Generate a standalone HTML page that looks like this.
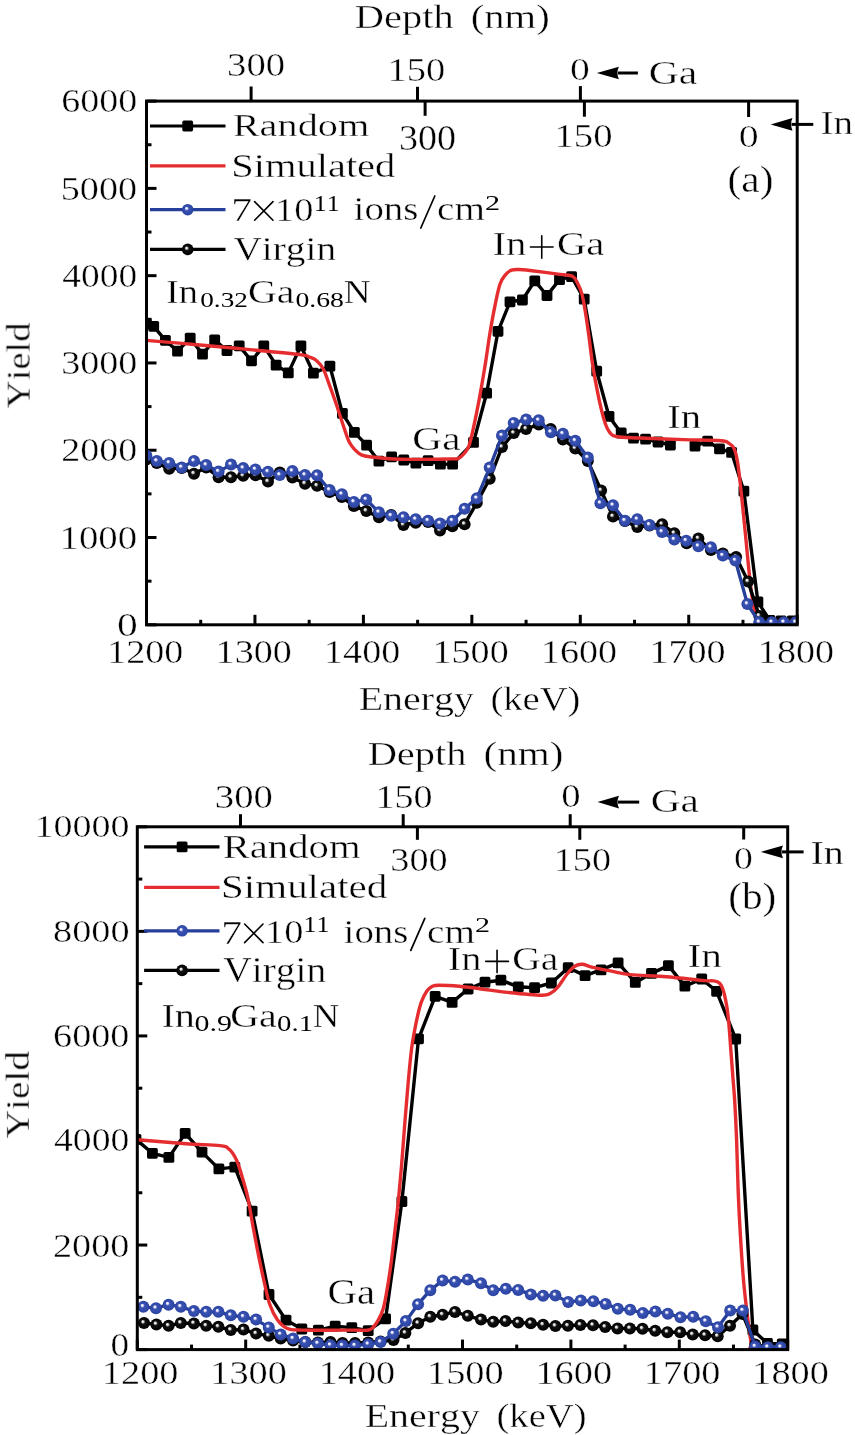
<!DOCTYPE html>
<html><head><meta charset="utf-8"><style>
html,body{margin:0;padding:0;background:#fff;}
body{width:855px;height:1435px;overflow:hidden;font-family:"Liberation Serif",serif;}
svg{display:block;}
</style></head><body>
<svg width="855" height="1435" viewBox="0 0 855 1435">
<rect width="855" height="1435" fill="#fff"/>
<defs>
<radialGradient id="gBlue" cx="0.5" cy="0.5" r="0.5" fx="0.38" fy="0.36">
<stop offset="0" stop-color="#ffffff"/><stop offset="0.16" stop-color="#e8e8ff"/><stop offset="0.36" stop-color="#3a52b0"/><stop offset="1" stop-color="#2b43a3"/>
</radialGradient>
<radialGradient id="gBlk" cx="0.5" cy="0.5" r="0.5" fx="0.38" fy="0.36">
<stop offset="0" stop-color="#ffffff"/><stop offset="0.16" stop-color="#dddddd"/><stop offset="0.38" stop-color="#111111"/><stop offset="1" stop-color="#000000"/>
</radialGradient>
<clipPath id="cA"><rect x="146.50" y="101.10" width="650.70" height="523.70"/></clipPath>
<clipPath id="cB"><rect x="137.30" y="826.80" width="650.40" height="522.80"/></clipPath>
</defs>
<g stroke="#000" stroke-width="3.0" fill="none"><line x1="146.50" y1="624.80" x2="146.50" y2="614.80"/>
<line x1="254.95" y1="624.80" x2="254.95" y2="614.80"/>
<line x1="363.40" y1="624.80" x2="363.40" y2="614.80"/>
<line x1="471.85" y1="624.80" x2="471.85" y2="614.80"/>
<line x1="580.30" y1="624.80" x2="580.30" y2="614.80"/>
<line x1="688.75" y1="624.80" x2="688.75" y2="614.80"/>
<line x1="797.20" y1="624.80" x2="797.20" y2="614.80"/>
<line x1="200.72" y1="624.80" x2="200.72" y2="619.80"/>
<line x1="309.18" y1="624.80" x2="309.18" y2="619.80"/>
<line x1="417.62" y1="624.80" x2="417.62" y2="619.80"/>
<line x1="526.08" y1="624.80" x2="526.08" y2="619.80"/>
<line x1="634.53" y1="624.80" x2="634.53" y2="619.80"/>
<line x1="742.98" y1="624.80" x2="742.98" y2="619.80"/>
<line x1="146.50" y1="624.80" x2="156.50" y2="624.80"/>
<line x1="146.50" y1="537.52" x2="156.50" y2="537.52"/>
<line x1="146.50" y1="450.23" x2="156.50" y2="450.23"/>
<line x1="146.50" y1="362.95" x2="156.50" y2="362.95"/>
<line x1="146.50" y1="275.67" x2="156.50" y2="275.67"/>
<line x1="146.50" y1="188.38" x2="156.50" y2="188.38"/>
<line x1="146.50" y1="101.10" x2="156.50" y2="101.10"/>
<line x1="146.50" y1="581.16" x2="151.50" y2="581.16"/>
<line x1="146.50" y1="493.88" x2="151.50" y2="493.88"/>
<line x1="146.50" y1="406.59" x2="151.50" y2="406.59"/>
<line x1="146.50" y1="319.31" x2="151.50" y2="319.31"/>
<line x1="146.50" y1="232.03" x2="151.50" y2="232.03"/>
<line x1="146.50" y1="144.74" x2="151.50" y2="144.74"/>
<line x1="251.10" y1="101.10" x2="251.10" y2="86.50"/>
<line x1="417.50" y1="101.10" x2="417.50" y2="86.80"/>
<line x1="580.40" y1="101.10" x2="580.40" y2="86.10"/>
<line x1="425.10" y1="101.10" x2="425.10" y2="115.80"/>
<line x1="584.40" y1="101.10" x2="584.40" y2="116.70"/>
<line x1="748.60" y1="101.10" x2="748.60" y2="117.00"/></g>
<g stroke="#000" stroke-width="3.0" fill="none"><line x1="137.30" y1="1349.60" x2="137.30" y2="1339.60"/>
<line x1="245.70" y1="1349.60" x2="245.70" y2="1339.60"/>
<line x1="354.10" y1="1349.60" x2="354.10" y2="1339.60"/>
<line x1="462.50" y1="1349.60" x2="462.50" y2="1339.60"/>
<line x1="570.90" y1="1349.60" x2="570.90" y2="1339.60"/>
<line x1="679.30" y1="1349.60" x2="679.30" y2="1339.60"/>
<line x1="787.70" y1="1349.60" x2="787.70" y2="1339.60"/>
<line x1="191.50" y1="1349.60" x2="191.50" y2="1344.60"/>
<line x1="299.90" y1="1349.60" x2="299.90" y2="1344.60"/>
<line x1="408.30" y1="1349.60" x2="408.30" y2="1344.60"/>
<line x1="516.70" y1="1349.60" x2="516.70" y2="1344.60"/>
<line x1="625.10" y1="1349.60" x2="625.10" y2="1344.60"/>
<line x1="733.50" y1="1349.60" x2="733.50" y2="1344.60"/>
<line x1="137.30" y1="1349.60" x2="147.30" y2="1349.60"/>
<line x1="137.30" y1="1245.04" x2="147.30" y2="1245.04"/>
<line x1="137.30" y1="1140.48" x2="147.30" y2="1140.48"/>
<line x1="137.30" y1="1035.92" x2="147.30" y2="1035.92"/>
<line x1="137.30" y1="931.36" x2="147.30" y2="931.36"/>
<line x1="137.30" y1="826.80" x2="147.30" y2="826.80"/>
<line x1="137.30" y1="1297.32" x2="142.30" y2="1297.32"/>
<line x1="137.30" y1="1192.76" x2="142.30" y2="1192.76"/>
<line x1="137.30" y1="1088.20" x2="142.30" y2="1088.20"/>
<line x1="137.30" y1="983.64" x2="142.30" y2="983.64"/>
<line x1="137.30" y1="879.08" x2="142.30" y2="879.08"/>
<line x1="240.50" y1="826.80" x2="240.50" y2="814.20"/>
<line x1="403.20" y1="826.80" x2="403.20" y2="814.20"/>
<line x1="570.20" y1="826.80" x2="570.20" y2="814.20"/>
<line x1="417.40" y1="826.80" x2="417.40" y2="839.80"/>
<line x1="579.80" y1="826.80" x2="579.80" y2="839.80"/>
<line x1="743.70" y1="826.80" x2="743.70" y2="839.50"/></g>
<g clip-path="url(#cA)">
<path d="M146.30,323.50 L153.70,326.30 L165.40,340.30 L177.50,351.20 L190.20,338.10 L202.50,354.10 L214.70,340.00 L227.00,350.50 L239.20,345.80 L251.50,360.80 L263.80,345.80 L276.10,365.10 L288.30,372.90 L300.90,345.90 L313.40,373.20 L329.90,366.10 L342.40,413.30 L354.40,432.40 L366.60,445.20 L378.90,461.20 L391.60,456.80 L403.80,460.00 L415.90,463.20 L428.10,460.70 L440.40,464.20 L452.60,464.10 L473.50,442.40 L486.60,393.20 L498.00,331.30 L510.00,301.80 L522.40,300.00 L534.80,280.90 L547.00,295.50 L559.50,279.60 L571.60,276.60 L584.20,299.10 L596.70,371.20 L609.00,416.40 L621.20,433.00 L633.50,438.20 L645.60,439.10 L658.00,442.00 L670.40,445.00" fill="none" stroke="#000" stroke-width="3.4" stroke-linejoin="round"/>
<path d="M695.00,446.10 L707.60,441.20 L719.50,448.90 L731.60,452.40 L743.90,491.20 L757.90,601.90 L769.80,620.50 L781.00,620.90 L792.30,620.90" fill="none" stroke="#000" stroke-width="3.4" stroke-linejoin="round"/>
<rect x="140.90" y="318.10" width="10.8" height="10.8" rx="1.6"/>
<rect x="148.30" y="320.90" width="10.8" height="10.8" rx="1.6"/>
<rect x="160.00" y="334.90" width="10.8" height="10.8" rx="1.6"/>
<rect x="172.10" y="345.80" width="10.8" height="10.8" rx="1.6"/>
<rect x="184.80" y="332.70" width="10.8" height="10.8" rx="1.6"/>
<rect x="197.10" y="348.70" width="10.8" height="10.8" rx="1.6"/>
<rect x="209.30" y="334.60" width="10.8" height="10.8" rx="1.6"/>
<rect x="221.60" y="345.10" width="10.8" height="10.8" rx="1.6"/>
<rect x="233.80" y="340.40" width="10.8" height="10.8" rx="1.6"/>
<rect x="246.10" y="355.40" width="10.8" height="10.8" rx="1.6"/>
<rect x="258.40" y="340.40" width="10.8" height="10.8" rx="1.6"/>
<rect x="270.70" y="359.70" width="10.8" height="10.8" rx="1.6"/>
<rect x="282.90" y="367.50" width="10.8" height="10.8" rx="1.6"/>
<rect x="295.50" y="340.50" width="10.8" height="10.8" rx="1.6"/>
<rect x="308.00" y="367.80" width="10.8" height="10.8" rx="1.6"/>
<rect x="324.50" y="360.70" width="10.8" height="10.8" rx="1.6"/>
<rect x="337.00" y="407.90" width="10.8" height="10.8" rx="1.6"/>
<rect x="349.00" y="427.00" width="10.8" height="10.8" rx="1.6"/>
<rect x="361.20" y="439.80" width="10.8" height="10.8" rx="1.6"/>
<rect x="373.50" y="455.80" width="10.8" height="10.8" rx="1.6"/>
<rect x="386.20" y="451.40" width="10.8" height="10.8" rx="1.6"/>
<rect x="398.40" y="454.60" width="10.8" height="10.8" rx="1.6"/>
<rect x="410.50" y="457.80" width="10.8" height="10.8" rx="1.6"/>
<rect x="422.70" y="455.30" width="10.8" height="10.8" rx="1.6"/>
<rect x="435.00" y="458.80" width="10.8" height="10.8" rx="1.6"/>
<rect x="447.20" y="458.70" width="10.8" height="10.8" rx="1.6"/>
<rect x="468.10" y="437.00" width="10.8" height="10.8" rx="1.6"/>
<rect x="481.20" y="387.80" width="10.8" height="10.8" rx="1.6"/>
<rect x="492.60" y="325.90" width="10.8" height="10.8" rx="1.6"/>
<rect x="504.60" y="296.40" width="10.8" height="10.8" rx="1.6"/>
<rect x="517.00" y="294.60" width="10.8" height="10.8" rx="1.6"/>
<rect x="529.40" y="275.50" width="10.8" height="10.8" rx="1.6"/>
<rect x="541.60" y="290.10" width="10.8" height="10.8" rx="1.6"/>
<rect x="554.10" y="274.20" width="10.8" height="10.8" rx="1.6"/>
<rect x="566.20" y="271.20" width="10.8" height="10.8" rx="1.6"/>
<rect x="578.80" y="293.70" width="10.8" height="10.8" rx="1.6"/>
<rect x="591.30" y="365.80" width="10.8" height="10.8" rx="1.6"/>
<rect x="603.60" y="411.00" width="10.8" height="10.8" rx="1.6"/>
<rect x="615.80" y="427.60" width="10.8" height="10.8" rx="1.6"/>
<rect x="628.10" y="432.80" width="10.8" height="10.8" rx="1.6"/>
<rect x="640.20" y="433.70" width="10.8" height="10.8" rx="1.6"/>
<rect x="652.60" y="436.60" width="10.8" height="10.8" rx="1.6"/>
<rect x="665.00" y="439.60" width="10.8" height="10.8" rx="1.6"/>
<rect x="689.60" y="440.70" width="10.8" height="10.8" rx="1.6"/>
<rect x="702.20" y="435.80" width="10.8" height="10.8" rx="1.6"/>
<rect x="714.10" y="443.50" width="10.8" height="10.8" rx="1.6"/>
<rect x="726.20" y="447.00" width="10.8" height="10.8" rx="1.6"/>
<rect x="738.50" y="485.80" width="10.8" height="10.8" rx="1.6"/>
<rect x="752.50" y="596.50" width="10.8" height="10.8" rx="1.6"/>
<rect x="764.40" y="615.10" width="10.8" height="10.8" rx="1.6"/>
<rect x="775.60" y="615.50" width="10.8" height="10.8" rx="1.6"/>
<rect x="786.90" y="615.50" width="10.8" height="10.8" rx="1.6"/>
<path d="M146.10,340.40 C155.08,341.17 182.68,343.47 200.00,345.00 C217.32,346.53 233.33,348.00 250.00,349.60 C266.67,351.20 290.10,353.37 300.00,354.60 C309.90,355.83 306.67,356.02 309.40,357.00 C312.13,357.98 314.07,358.47 316.40,360.50 C318.73,362.53 321.27,365.22 323.40,369.20 C325.53,373.18 327.25,379.13 329.20,384.40 C331.15,389.67 333.33,395.72 335.10,400.80 C336.87,405.88 338.25,410.22 339.80,414.90 C341.35,419.58 342.85,424.42 344.40,428.90 C345.95,433.38 347.33,438.30 349.10,441.80 C350.87,445.30 352.85,447.67 355.00,449.90 C357.15,452.13 359.08,454.02 362.00,455.20 C364.92,456.38 366.17,456.32 372.50,457.00 C378.83,457.68 387.08,458.98 400.00,459.30 C412.92,459.62 440.20,459.08 450.00,458.90 C459.80,458.72 456.37,459.18 458.80,458.20 C461.23,457.22 462.90,455.08 464.60,453.00 C466.30,450.92 467.53,449.83 469.00,445.70 C470.47,441.57 471.68,436.00 473.40,428.20 C475.12,420.40 477.35,409.38 479.30,398.90 C481.25,388.42 483.40,375.78 485.10,365.30 C486.80,354.82 488.03,345.02 489.50,336.00 C490.97,326.98 492.20,319.72 493.90,311.20 C495.60,302.68 497.75,291.00 499.70,284.90 C501.65,278.80 503.65,277.05 505.60,274.60 C507.55,272.15 509.22,271.05 511.40,270.20 C513.58,269.35 515.60,269.45 518.70,269.50 C521.80,269.55 523.12,269.68 530.00,270.50 C536.88,271.32 552.92,273.43 560.00,274.40 C567.08,275.37 569.57,274.83 572.50,276.30 C575.43,277.77 576.03,280.27 577.60,283.20 C579.17,286.13 580.65,289.40 581.90,293.90 C583.15,298.40 583.95,303.32 585.10,310.20 C586.25,317.08 587.65,326.85 588.80,335.20 C589.95,343.55 590.95,352.98 592.00,360.30 C593.05,367.62 593.75,371.78 595.10,379.10 C596.45,386.42 598.43,396.88 600.10,404.20 C601.77,411.52 603.42,418.20 605.10,423.00 C606.78,427.80 608.10,430.70 610.20,433.00 C612.30,435.30 612.73,435.97 617.70,436.80 C622.67,437.63 629.02,437.53 640.00,438.00 C650.98,438.47 670.10,439.15 683.60,439.60 C697.10,440.05 713.52,440.13 721.00,440.70 C728.48,441.27 726.32,441.68 728.50,443.00 C730.68,444.32 732.55,445.17 734.10,448.60 C735.65,452.03 736.52,455.37 737.80,463.60 C739.08,471.83 740.43,485.23 741.80,498.00 C743.17,510.77 744.60,526.15 746.00,540.20 C747.40,554.25 748.80,570.60 750.20,582.30 C751.60,594.00 753.00,603.97 754.40,610.40 C755.80,616.83 756.83,619.05 758.60,620.90 C760.37,622.75 758.52,621.40 765.00,621.50 C771.48,621.60 792.08,621.50 797.50,621.50" fill="none" stroke="#e52d30" stroke-width="3.4" stroke-linejoin="round"/>
<path d="M146.30,459.60 L156.80,463.00 L169.20,468.80 L181.70,468.00 L194.00,473.70 L206.20,467.40 L218.60,477.20 L231.00,477.20 L243.20,475.80 L255.60,475.30 L268.00,481.60 L279.80,472.50 L292.40,477.40 L305.00,483.70 L317.10,485.80 L329.60,492.10 L341.90,497.00 L353.90,506.10 L366.30,510.90 L378.90,517.20 L391.20,515.00 L403.50,524.90 L415.70,522.80 L428.10,522.00 L440.00,530.50 L452.40,526.30 L464.60,524.20 L476.80,502.80 L489.70,478.70 L502.00,447.10 L513.80,433.10 L526.10,428.90 L538.80,424.60 L550.70,428.90 L562.90,439.40 L575.30,448.50 L587.80,461.00 L601.10,490.50 L613.00,516.50 L624.90,521.00 L637.30,527.00 L649.50,525.50 L662.10,524.20 L674.30,533.30 L686.70,543.20 L698.40,538.50 L710.90,550.00 L722.80,553.50 L736.10,557.00 L748.10,581.60 L759.30,616.00 L771.90,622.50 L783.90,622.50 L795.80,622.50" fill="none" stroke="#000" stroke-width="3.4" stroke-linejoin="round"/>
<circle cx="146.30" cy="459.60" r="6.0" fill="url(#gBlk)"/>
<circle cx="156.80" cy="463.00" r="6.0" fill="url(#gBlk)"/>
<circle cx="169.20" cy="468.80" r="6.0" fill="url(#gBlk)"/>
<circle cx="181.70" cy="468.00" r="6.0" fill="url(#gBlk)"/>
<circle cx="194.00" cy="473.70" r="6.0" fill="url(#gBlk)"/>
<circle cx="206.20" cy="467.40" r="6.0" fill="url(#gBlk)"/>
<circle cx="218.60" cy="477.20" r="6.0" fill="url(#gBlk)"/>
<circle cx="231.00" cy="477.20" r="6.0" fill="url(#gBlk)"/>
<circle cx="243.20" cy="475.80" r="6.0" fill="url(#gBlk)"/>
<circle cx="255.60" cy="475.30" r="6.0" fill="url(#gBlk)"/>
<circle cx="268.00" cy="481.60" r="6.0" fill="url(#gBlk)"/>
<circle cx="279.80" cy="472.50" r="6.0" fill="url(#gBlk)"/>
<circle cx="292.40" cy="477.40" r="6.0" fill="url(#gBlk)"/>
<circle cx="305.00" cy="483.70" r="6.0" fill="url(#gBlk)"/>
<circle cx="317.10" cy="485.80" r="6.0" fill="url(#gBlk)"/>
<circle cx="329.60" cy="492.10" r="6.0" fill="url(#gBlk)"/>
<circle cx="341.90" cy="497.00" r="6.0" fill="url(#gBlk)"/>
<circle cx="353.90" cy="506.10" r="6.0" fill="url(#gBlk)"/>
<circle cx="366.30" cy="510.90" r="6.0" fill="url(#gBlk)"/>
<circle cx="378.90" cy="517.20" r="6.0" fill="url(#gBlk)"/>
<circle cx="391.20" cy="515.00" r="6.0" fill="url(#gBlk)"/>
<circle cx="403.50" cy="524.90" r="6.0" fill="url(#gBlk)"/>
<circle cx="415.70" cy="522.80" r="6.0" fill="url(#gBlk)"/>
<circle cx="428.10" cy="522.00" r="6.0" fill="url(#gBlk)"/>
<circle cx="440.00" cy="530.50" r="6.0" fill="url(#gBlk)"/>
<circle cx="452.40" cy="526.30" r="6.0" fill="url(#gBlk)"/>
<circle cx="464.60" cy="524.20" r="6.0" fill="url(#gBlk)"/>
<circle cx="476.80" cy="502.80" r="6.0" fill="url(#gBlk)"/>
<circle cx="489.70" cy="478.70" r="6.0" fill="url(#gBlk)"/>
<circle cx="502.00" cy="447.10" r="6.0" fill="url(#gBlk)"/>
<circle cx="513.80" cy="433.10" r="6.0" fill="url(#gBlk)"/>
<circle cx="526.10" cy="428.90" r="6.0" fill="url(#gBlk)"/>
<circle cx="538.80" cy="424.60" r="6.0" fill="url(#gBlk)"/>
<circle cx="550.70" cy="428.90" r="6.0" fill="url(#gBlk)"/>
<circle cx="562.90" cy="439.40" r="6.0" fill="url(#gBlk)"/>
<circle cx="575.30" cy="448.50" r="6.0" fill="url(#gBlk)"/>
<circle cx="587.80" cy="461.00" r="6.0" fill="url(#gBlk)"/>
<circle cx="601.10" cy="490.50" r="6.0" fill="url(#gBlk)"/>
<circle cx="613.00" cy="516.50" r="6.0" fill="url(#gBlk)"/>
<circle cx="624.90" cy="521.00" r="6.0" fill="url(#gBlk)"/>
<circle cx="637.30" cy="527.00" r="6.0" fill="url(#gBlk)"/>
<circle cx="649.50" cy="525.50" r="6.0" fill="url(#gBlk)"/>
<circle cx="662.10" cy="524.20" r="6.0" fill="url(#gBlk)"/>
<circle cx="674.30" cy="533.30" r="6.0" fill="url(#gBlk)"/>
<circle cx="686.70" cy="543.20" r="6.0" fill="url(#gBlk)"/>
<circle cx="698.40" cy="538.50" r="6.0" fill="url(#gBlk)"/>
<circle cx="710.90" cy="550.00" r="6.0" fill="url(#gBlk)"/>
<circle cx="722.80" cy="553.50" r="6.0" fill="url(#gBlk)"/>
<circle cx="736.10" cy="557.00" r="6.0" fill="url(#gBlk)"/>
<circle cx="748.10" cy="581.60" r="6.0" fill="url(#gBlk)"/>
<circle cx="759.30" cy="616.00" r="6.0" fill="url(#gBlk)"/>
<circle cx="771.90" cy="622.50" r="6.0" fill="url(#gBlk)"/>
<circle cx="783.90" cy="622.50" r="6.0" fill="url(#gBlk)"/>
<circle cx="795.80" cy="622.50" r="6.0" fill="url(#gBlk)"/>
<path d="M146.30,455.40 L156.80,461.00 L169.20,462.90 L181.70,467.40 L194.00,461.00 L206.20,465.00 L218.60,471.60 L231.00,464.60 L243.20,468.10 L255.40,469.40 L268.00,471.80 L279.80,475.00 L292.40,471.10 L305.00,475.00 L317.10,475.30 L329.60,490.00 L341.90,494.20 L353.90,501.90 L366.20,499.50 L378.90,512.30 L391.20,515.80 L403.50,517.20 L415.70,519.30 L428.10,520.70 L440.00,523.50 L452.40,520.70 L464.60,508.80 L476.80,498.30 L489.70,467.60 L502.00,435.60 L513.70,422.90 L526.20,419.50 L538.70,420.30 L550.90,432.20 L562.90,433.80 L575.30,440.80 L587.80,457.60 L600.40,503.20 L613.00,505.30 L624.90,520.70 L637.30,519.30 L649.50,524.90 L662.10,531.90 L674.30,539.60 L686.20,540.70 L698.40,546.20 L710.90,547.20 L722.80,555.60 L735.40,560.50 L747.40,604.00 L759.30,622.30 L771.90,622.30 L783.90,622.30 L795.80,622.30" fill="none" stroke="#263f9a" stroke-width="3.3" stroke-linejoin="round"/>
<circle cx="146.30" cy="455.40" r="6.0" fill="url(#gBlue)"/>
<circle cx="156.80" cy="461.00" r="6.0" fill="url(#gBlue)"/>
<circle cx="169.20" cy="462.90" r="6.0" fill="url(#gBlue)"/>
<circle cx="181.70" cy="467.40" r="6.0" fill="url(#gBlue)"/>
<circle cx="194.00" cy="461.00" r="6.0" fill="url(#gBlue)"/>
<circle cx="206.20" cy="465.00" r="6.0" fill="url(#gBlue)"/>
<circle cx="218.60" cy="471.60" r="6.0" fill="url(#gBlue)"/>
<circle cx="231.00" cy="464.60" r="6.0" fill="url(#gBlue)"/>
<circle cx="243.20" cy="468.10" r="6.0" fill="url(#gBlue)"/>
<circle cx="255.40" cy="469.40" r="6.0" fill="url(#gBlue)"/>
<circle cx="268.00" cy="471.80" r="6.0" fill="url(#gBlue)"/>
<circle cx="279.80" cy="475.00" r="6.0" fill="url(#gBlue)"/>
<circle cx="292.40" cy="471.10" r="6.0" fill="url(#gBlue)"/>
<circle cx="305.00" cy="475.00" r="6.0" fill="url(#gBlue)"/>
<circle cx="317.10" cy="475.30" r="6.0" fill="url(#gBlue)"/>
<circle cx="329.60" cy="490.00" r="6.0" fill="url(#gBlue)"/>
<circle cx="341.90" cy="494.20" r="6.0" fill="url(#gBlue)"/>
<circle cx="353.90" cy="501.90" r="6.0" fill="url(#gBlue)"/>
<circle cx="366.20" cy="499.50" r="6.0" fill="url(#gBlue)"/>
<circle cx="378.90" cy="512.30" r="6.0" fill="url(#gBlue)"/>
<circle cx="391.20" cy="515.80" r="6.0" fill="url(#gBlue)"/>
<circle cx="403.50" cy="517.20" r="6.0" fill="url(#gBlue)"/>
<circle cx="415.70" cy="519.30" r="6.0" fill="url(#gBlue)"/>
<circle cx="428.10" cy="520.70" r="6.0" fill="url(#gBlue)"/>
<circle cx="440.00" cy="523.50" r="6.0" fill="url(#gBlue)"/>
<circle cx="452.40" cy="520.70" r="6.0" fill="url(#gBlue)"/>
<circle cx="464.60" cy="508.80" r="6.0" fill="url(#gBlue)"/>
<circle cx="476.80" cy="498.30" r="6.0" fill="url(#gBlue)"/>
<circle cx="489.70" cy="467.60" r="6.0" fill="url(#gBlue)"/>
<circle cx="502.00" cy="435.60" r="6.0" fill="url(#gBlue)"/>
<circle cx="513.70" cy="422.90" r="6.0" fill="url(#gBlue)"/>
<circle cx="526.20" cy="419.50" r="6.0" fill="url(#gBlue)"/>
<circle cx="538.70" cy="420.30" r="6.0" fill="url(#gBlue)"/>
<circle cx="550.90" cy="432.20" r="6.0" fill="url(#gBlue)"/>
<circle cx="562.90" cy="433.80" r="6.0" fill="url(#gBlue)"/>
<circle cx="575.30" cy="440.80" r="6.0" fill="url(#gBlue)"/>
<circle cx="587.80" cy="457.60" r="6.0" fill="url(#gBlue)"/>
<circle cx="600.40" cy="503.20" r="6.0" fill="url(#gBlue)"/>
<circle cx="613.00" cy="505.30" r="6.0" fill="url(#gBlue)"/>
<circle cx="624.90" cy="520.70" r="6.0" fill="url(#gBlue)"/>
<circle cx="637.30" cy="519.30" r="6.0" fill="url(#gBlue)"/>
<circle cx="649.50" cy="524.90" r="6.0" fill="url(#gBlue)"/>
<circle cx="662.10" cy="531.90" r="6.0" fill="url(#gBlue)"/>
<circle cx="674.30" cy="539.60" r="6.0" fill="url(#gBlue)"/>
<circle cx="686.20" cy="540.70" r="6.0" fill="url(#gBlue)"/>
<circle cx="698.40" cy="546.20" r="6.0" fill="url(#gBlue)"/>
<circle cx="710.90" cy="547.20" r="6.0" fill="url(#gBlue)"/>
<circle cx="722.80" cy="555.60" r="6.0" fill="url(#gBlue)"/>
<circle cx="735.40" cy="560.50" r="6.0" fill="url(#gBlue)"/>
<circle cx="747.40" cy="604.00" r="6.0" fill="url(#gBlue)"/>
<circle cx="759.30" cy="622.30" r="6.0" fill="url(#gBlue)"/>
<circle cx="771.90" cy="622.30" r="6.0" fill="url(#gBlue)"/>
<circle cx="783.90" cy="622.30" r="6.0" fill="url(#gBlue)"/>
<circle cx="795.80" cy="622.30" r="6.0" fill="url(#gBlue)"/>
</g>
<g clip-path="url(#cB)">
<path d="M136.00,1139.30 L152.40,1153.30 L168.90,1157.40 L185.20,1133.40 L202.00,1152.10 L218.90,1168.90 L234.80,1167.10 L252.10,1211.10 L269.00,1294.50 L286.00,1320.10 L301.80,1329.00 L318.40,1330.10 L335.20,1326.20 L351.80,1327.60 L368.20,1330.60 L385.60,1318.80 L401.90,1201.50 L418.50,1038.80 L435.20,996.30 L452.10,1002.40 L468.10,989.00 L485.00,982.20 L500.90,980.20 L518.30,986.80 L534.60,987.70 L551.40,983.00 L568.20,967.70 L585.10,975.60 L601.00,969.90 L618.10,962.90 L635.30,982.40 L651.50,973.40 L668.40,965.60 L684.90,986.10 L701.70,979.00 L716.60,991.30 L735.70,1039.00 L752.90,1330.00 L767.50,1343.50 L782.30,1344.00" fill="none" stroke="#000" stroke-width="3.4" stroke-linejoin="round"/>
<rect x="130.60" y="1133.90" width="10.8" height="10.8" rx="1.6"/>
<rect x="147.00" y="1147.90" width="10.8" height="10.8" rx="1.6"/>
<rect x="163.50" y="1152.00" width="10.8" height="10.8" rx="1.6"/>
<rect x="179.80" y="1128.00" width="10.8" height="10.8" rx="1.6"/>
<rect x="196.60" y="1146.70" width="10.8" height="10.8" rx="1.6"/>
<rect x="213.50" y="1163.50" width="10.8" height="10.8" rx="1.6"/>
<rect x="229.40" y="1161.70" width="10.8" height="10.8" rx="1.6"/>
<rect x="246.70" y="1205.70" width="10.8" height="10.8" rx="1.6"/>
<rect x="263.60" y="1289.10" width="10.8" height="10.8" rx="1.6"/>
<rect x="280.60" y="1314.70" width="10.8" height="10.8" rx="1.6"/>
<rect x="296.40" y="1323.60" width="10.8" height="10.8" rx="1.6"/>
<rect x="313.00" y="1324.70" width="10.8" height="10.8" rx="1.6"/>
<rect x="329.80" y="1320.80" width="10.8" height="10.8" rx="1.6"/>
<rect x="346.40" y="1322.20" width="10.8" height="10.8" rx="1.6"/>
<rect x="362.80" y="1325.20" width="10.8" height="10.8" rx="1.6"/>
<rect x="380.20" y="1313.40" width="10.8" height="10.8" rx="1.6"/>
<rect x="396.50" y="1196.10" width="10.8" height="10.8" rx="1.6"/>
<rect x="413.10" y="1033.40" width="10.8" height="10.8" rx="1.6"/>
<rect x="429.80" y="990.90" width="10.8" height="10.8" rx="1.6"/>
<rect x="446.70" y="997.00" width="10.8" height="10.8" rx="1.6"/>
<rect x="462.70" y="983.60" width="10.8" height="10.8" rx="1.6"/>
<rect x="479.60" y="976.80" width="10.8" height="10.8" rx="1.6"/>
<rect x="495.50" y="974.80" width="10.8" height="10.8" rx="1.6"/>
<rect x="512.90" y="981.40" width="10.8" height="10.8" rx="1.6"/>
<rect x="529.20" y="982.30" width="10.8" height="10.8" rx="1.6"/>
<rect x="546.00" y="977.60" width="10.8" height="10.8" rx="1.6"/>
<rect x="562.80" y="962.30" width="10.8" height="10.8" rx="1.6"/>
<rect x="579.70" y="970.20" width="10.8" height="10.8" rx="1.6"/>
<rect x="595.60" y="964.50" width="10.8" height="10.8" rx="1.6"/>
<rect x="612.70" y="957.50" width="10.8" height="10.8" rx="1.6"/>
<rect x="629.90" y="977.00" width="10.8" height="10.8" rx="1.6"/>
<rect x="646.10" y="968.00" width="10.8" height="10.8" rx="1.6"/>
<rect x="663.00" y="960.20" width="10.8" height="10.8" rx="1.6"/>
<rect x="679.50" y="980.70" width="10.8" height="10.8" rx="1.6"/>
<rect x="696.30" y="973.60" width="10.8" height="10.8" rx="1.6"/>
<rect x="711.20" y="985.90" width="10.8" height="10.8" rx="1.6"/>
<rect x="730.30" y="1033.60" width="10.8" height="10.8" rx="1.6"/>
<rect x="747.50" y="1324.60" width="10.8" height="10.8" rx="1.6"/>
<rect x="762.10" y="1338.10" width="10.8" height="10.8" rx="1.6"/>
<rect x="776.90" y="1338.60" width="10.8" height="10.8" rx="1.6"/>
<path d="M137.30,1139.80 C145.43,1140.45 172.35,1142.73 186.10,1143.70 C199.85,1144.67 212.62,1144.67 219.80,1145.60 C226.98,1146.53 226.38,1146.82 229.20,1149.30 C232.02,1151.78 234.52,1155.82 236.70,1160.50 C238.88,1165.18 240.43,1171.15 242.30,1177.40 C244.17,1183.65 246.07,1189.57 247.90,1198.00 C249.73,1206.43 251.50,1218.32 253.30,1228.00 C255.10,1237.68 256.87,1247.05 258.70,1256.10 C260.53,1265.15 262.43,1274.18 264.30,1282.30 C266.17,1290.42 267.72,1298.55 269.90,1304.80 C272.08,1311.05 274.58,1315.90 277.40,1319.80 C280.22,1323.70 282.73,1326.48 286.80,1328.20 C290.87,1329.92 290.88,1329.78 301.80,1330.10 C312.72,1330.42 340.93,1330.18 352.30,1330.10 C363.67,1330.02 365.73,1331.18 370.00,1329.60 C374.27,1328.02 375.70,1324.08 377.90,1320.60 C380.10,1317.12 381.65,1313.98 383.20,1308.70 C384.75,1303.42 385.87,1296.62 387.20,1288.90 C388.53,1281.18 389.88,1272.32 391.20,1262.40 C392.52,1252.48 393.90,1239.75 395.10,1229.40 C396.30,1219.05 397.32,1211.03 398.40,1200.30 C399.48,1189.57 400.52,1178.03 401.60,1165.00 C402.68,1151.97 403.80,1135.87 404.90,1122.10 C406.00,1108.33 407.10,1094.52 408.20,1082.40 C409.30,1070.28 410.40,1058.22 411.50,1049.40 C412.60,1040.58 413.70,1035.45 414.80,1029.50 C415.90,1023.55 416.98,1018.33 418.10,1013.70 C419.22,1009.07 420.07,1005.45 421.50,1001.70 C422.93,997.95 424.95,993.73 426.70,991.20 C428.45,988.67 430.00,987.50 432.00,986.50 C434.00,985.50 434.17,985.23 438.70,985.20 C443.23,985.17 450.65,985.48 459.20,986.30 C467.75,987.12 481.97,989.08 490.00,990.10 C498.03,991.12 498.88,991.55 507.40,992.40 C515.92,993.25 533.92,995.05 541.10,995.20 C548.28,995.35 547.68,994.70 550.50,993.30 C553.32,991.90 555.20,990.07 558.00,986.80 C560.80,983.53 564.50,977.13 567.30,973.70 C570.10,970.27 572.30,967.77 574.80,966.20 C577.30,964.63 579.50,964.15 582.30,964.30 C585.10,964.45 586.93,966.00 591.60,967.10 C596.27,968.20 603.90,969.65 610.30,970.90 C616.70,972.15 620.70,973.62 630.00,974.60 C639.30,975.58 653.60,975.80 666.10,976.80 C678.60,977.80 697.18,979.93 705.00,980.60 C712.82,981.27 710.57,980.37 713.00,980.80 C715.43,981.23 717.85,981.47 719.60,983.20 C721.35,984.93 722.28,987.22 723.50,991.20 C724.72,995.18 726.02,1001.80 726.90,1007.10 C727.78,1012.40 728.15,1015.93 728.80,1023.00 C729.45,1030.07 730.13,1040.67 730.80,1049.50 C731.47,1058.33 732.13,1067.17 732.80,1076.00 C733.47,1084.83 734.17,1091.83 734.80,1102.50 C735.43,1113.17 736.03,1125.12 736.60,1140.00 C737.17,1154.88 737.58,1176.20 738.20,1191.80 C738.82,1207.40 739.48,1219.68 740.30,1233.60 C741.12,1247.52 742.17,1263.70 743.10,1275.30 C744.03,1286.90 744.85,1293.90 745.90,1303.20 C746.95,1312.50 748.47,1324.13 749.40,1331.10 C750.33,1338.07 750.90,1342.10 751.50,1345.00 C752.10,1347.90 746.58,1347.92 753.00,1348.50 C759.42,1349.08 783.83,1348.50 790.00,1348.50" fill="none" stroke="#e52d30" stroke-width="3.4" stroke-linejoin="round"/>
<path d="M144.00,1323.00 L156.40,1324.40 L168.60,1325.80 L180.80,1323.00 L193.90,1323.40 L206.20,1325.80 L218.40,1326.80 L230.80,1330.00 L243.50,1329.60 L256.10,1333.60 L268.80,1335.80 L280.70,1338.60 L293.10,1340.50 L305.30,1342.00 L317.90,1342.50 L330.50,1342.10 L342.50,1343.00 L355.00,1343.00 L368.20,1342.50 L380.60,1341.50 L393.50,1340.00 L405.40,1333.00 L418.10,1323.20 L430.30,1316.80 L442.60,1314.70 L455.00,1311.90 L467.80,1315.80 L481.00,1319.60 L493.20,1321.80 L505.50,1321.10 L518.20,1322.50 L530.80,1323.20 L543.10,1324.80 L555.40,1326.00 L567.90,1325.80 L580.40,1324.90 L593.00,1325.20 L605.20,1327.00 L617.50,1328.40 L629.90,1328.40 L642.50,1328.80 L655.20,1330.80 L667.40,1332.20 L680.20,1332.30 L692.70,1334.60 L705.10,1335.20 L717.70,1336.30 L730.00,1325.80 L742.50,1314.00 L755.20,1344.50 L767.80,1347.20 L780.80,1347.20" fill="none" stroke="#000" stroke-width="3.4" stroke-linejoin="round"/>
<circle cx="144.00" cy="1323.00" r="6.0" fill="url(#gBlk)"/>
<circle cx="156.40" cy="1324.40" r="6.0" fill="url(#gBlk)"/>
<circle cx="168.60" cy="1325.80" r="6.0" fill="url(#gBlk)"/>
<circle cx="180.80" cy="1323.00" r="6.0" fill="url(#gBlk)"/>
<circle cx="193.90" cy="1323.40" r="6.0" fill="url(#gBlk)"/>
<circle cx="206.20" cy="1325.80" r="6.0" fill="url(#gBlk)"/>
<circle cx="218.40" cy="1326.80" r="6.0" fill="url(#gBlk)"/>
<circle cx="230.80" cy="1330.00" r="6.0" fill="url(#gBlk)"/>
<circle cx="243.50" cy="1329.60" r="6.0" fill="url(#gBlk)"/>
<circle cx="256.10" cy="1333.60" r="6.0" fill="url(#gBlk)"/>
<circle cx="268.80" cy="1335.80" r="6.0" fill="url(#gBlk)"/>
<circle cx="280.70" cy="1338.60" r="6.0" fill="url(#gBlk)"/>
<circle cx="293.10" cy="1340.50" r="6.0" fill="url(#gBlk)"/>
<circle cx="305.30" cy="1342.00" r="6.0" fill="url(#gBlk)"/>
<circle cx="317.90" cy="1342.50" r="6.0" fill="url(#gBlk)"/>
<circle cx="330.50" cy="1342.10" r="6.0" fill="url(#gBlk)"/>
<circle cx="342.50" cy="1343.00" r="6.0" fill="url(#gBlk)"/>
<circle cx="355.00" cy="1343.00" r="6.0" fill="url(#gBlk)"/>
<circle cx="368.20" cy="1342.50" r="6.0" fill="url(#gBlk)"/>
<circle cx="380.60" cy="1341.50" r="6.0" fill="url(#gBlk)"/>
<circle cx="393.50" cy="1340.00" r="6.0" fill="url(#gBlk)"/>
<circle cx="405.40" cy="1333.00" r="6.0" fill="url(#gBlk)"/>
<circle cx="418.10" cy="1323.20" r="6.0" fill="url(#gBlk)"/>
<circle cx="430.30" cy="1316.80" r="6.0" fill="url(#gBlk)"/>
<circle cx="442.60" cy="1314.70" r="6.0" fill="url(#gBlk)"/>
<circle cx="455.00" cy="1311.90" r="6.0" fill="url(#gBlk)"/>
<circle cx="467.80" cy="1315.80" r="6.0" fill="url(#gBlk)"/>
<circle cx="481.00" cy="1319.60" r="6.0" fill="url(#gBlk)"/>
<circle cx="493.20" cy="1321.80" r="6.0" fill="url(#gBlk)"/>
<circle cx="505.50" cy="1321.10" r="6.0" fill="url(#gBlk)"/>
<circle cx="518.20" cy="1322.50" r="6.0" fill="url(#gBlk)"/>
<circle cx="530.80" cy="1323.20" r="6.0" fill="url(#gBlk)"/>
<circle cx="543.10" cy="1324.80" r="6.0" fill="url(#gBlk)"/>
<circle cx="555.40" cy="1326.00" r="6.0" fill="url(#gBlk)"/>
<circle cx="567.90" cy="1325.80" r="6.0" fill="url(#gBlk)"/>
<circle cx="580.40" cy="1324.90" r="6.0" fill="url(#gBlk)"/>
<circle cx="593.00" cy="1325.20" r="6.0" fill="url(#gBlk)"/>
<circle cx="605.20" cy="1327.00" r="6.0" fill="url(#gBlk)"/>
<circle cx="617.50" cy="1328.40" r="6.0" fill="url(#gBlk)"/>
<circle cx="629.90" cy="1328.40" r="6.0" fill="url(#gBlk)"/>
<circle cx="642.50" cy="1328.80" r="6.0" fill="url(#gBlk)"/>
<circle cx="655.20" cy="1330.80" r="6.0" fill="url(#gBlk)"/>
<circle cx="667.40" cy="1332.20" r="6.0" fill="url(#gBlk)"/>
<circle cx="680.20" cy="1332.30" r="6.0" fill="url(#gBlk)"/>
<circle cx="692.70" cy="1334.60" r="6.0" fill="url(#gBlk)"/>
<circle cx="705.10" cy="1335.20" r="6.0" fill="url(#gBlk)"/>
<circle cx="717.70" cy="1336.30" r="6.0" fill="url(#gBlk)"/>
<circle cx="730.00" cy="1325.80" r="6.0" fill="url(#gBlk)"/>
<circle cx="742.50" cy="1314.00" r="6.0" fill="url(#gBlk)"/>
<circle cx="755.20" cy="1344.50" r="6.0" fill="url(#gBlk)"/>
<circle cx="767.80" cy="1347.20" r="6.0" fill="url(#gBlk)"/>
<circle cx="780.80" cy="1347.20" r="6.0" fill="url(#gBlk)"/>
<path d="M143.40,1306.80 L156.00,1308.20 L168.60,1304.70 L180.80,1306.80 L193.90,1311.10 L206.20,1311.80 L218.40,1311.80 L230.80,1315.30 L243.50,1316.80 L256.10,1319.60 L268.80,1327.40 L280.70,1334.40 L293.10,1338.60 L305.30,1342.10 L317.90,1343.50 L330.50,1345.20 L342.50,1345.60 L355.00,1345.60 L368.20,1344.20 L380.60,1342.10 L393.20,1333.70 L405.90,1321.10 L418.10,1304.20 L430.30,1290.20 L442.60,1280.40 L455.00,1281.80 L467.80,1279.60 L481.00,1283.20 L493.20,1290.20 L505.80,1288.80 L518.20,1289.90 L530.80,1294.40 L543.10,1295.80 L555.40,1295.40 L568.20,1302.10 L580.80,1300.40 L593.40,1301.30 L605.60,1303.90 L617.80,1308.80 L630.20,1309.80 L642.80,1313.00 L655.40,1311.60 L667.80,1313.70 L680.50,1317.30 L693.20,1316.70 L705.80,1321.20 L718.00,1327.20 L730.20,1310.60 L742.90,1310.60 L755.20,1346.50 L767.80,1347.20 L780.80,1347.20" fill="none" stroke="#263f9a" stroke-width="3.3" stroke-linejoin="round"/>
<circle cx="143.40" cy="1306.80" r="6.0" fill="url(#gBlue)"/>
<circle cx="156.00" cy="1308.20" r="6.0" fill="url(#gBlue)"/>
<circle cx="168.60" cy="1304.70" r="6.0" fill="url(#gBlue)"/>
<circle cx="180.80" cy="1306.80" r="6.0" fill="url(#gBlue)"/>
<circle cx="193.90" cy="1311.10" r="6.0" fill="url(#gBlue)"/>
<circle cx="206.20" cy="1311.80" r="6.0" fill="url(#gBlue)"/>
<circle cx="218.40" cy="1311.80" r="6.0" fill="url(#gBlue)"/>
<circle cx="230.80" cy="1315.30" r="6.0" fill="url(#gBlue)"/>
<circle cx="243.50" cy="1316.80" r="6.0" fill="url(#gBlue)"/>
<circle cx="256.10" cy="1319.60" r="6.0" fill="url(#gBlue)"/>
<circle cx="268.80" cy="1327.40" r="6.0" fill="url(#gBlue)"/>
<circle cx="280.70" cy="1334.40" r="6.0" fill="url(#gBlue)"/>
<circle cx="293.10" cy="1338.60" r="6.0" fill="url(#gBlue)"/>
<circle cx="305.30" cy="1342.10" r="6.0" fill="url(#gBlue)"/>
<circle cx="317.90" cy="1343.50" r="6.0" fill="url(#gBlue)"/>
<circle cx="330.50" cy="1345.20" r="6.0" fill="url(#gBlue)"/>
<circle cx="342.50" cy="1345.60" r="6.0" fill="url(#gBlue)"/>
<circle cx="355.00" cy="1345.60" r="6.0" fill="url(#gBlue)"/>
<circle cx="368.20" cy="1344.20" r="6.0" fill="url(#gBlue)"/>
<circle cx="380.60" cy="1342.10" r="6.0" fill="url(#gBlue)"/>
<circle cx="393.20" cy="1333.70" r="6.0" fill="url(#gBlue)"/>
<circle cx="405.90" cy="1321.10" r="6.0" fill="url(#gBlue)"/>
<circle cx="418.10" cy="1304.20" r="6.0" fill="url(#gBlue)"/>
<circle cx="430.30" cy="1290.20" r="6.0" fill="url(#gBlue)"/>
<circle cx="442.60" cy="1280.40" r="6.0" fill="url(#gBlue)"/>
<circle cx="455.00" cy="1281.80" r="6.0" fill="url(#gBlue)"/>
<circle cx="467.80" cy="1279.60" r="6.0" fill="url(#gBlue)"/>
<circle cx="481.00" cy="1283.20" r="6.0" fill="url(#gBlue)"/>
<circle cx="493.20" cy="1290.20" r="6.0" fill="url(#gBlue)"/>
<circle cx="505.80" cy="1288.80" r="6.0" fill="url(#gBlue)"/>
<circle cx="518.20" cy="1289.90" r="6.0" fill="url(#gBlue)"/>
<circle cx="530.80" cy="1294.40" r="6.0" fill="url(#gBlue)"/>
<circle cx="543.10" cy="1295.80" r="6.0" fill="url(#gBlue)"/>
<circle cx="555.40" cy="1295.40" r="6.0" fill="url(#gBlue)"/>
<circle cx="568.20" cy="1302.10" r="6.0" fill="url(#gBlue)"/>
<circle cx="580.80" cy="1300.40" r="6.0" fill="url(#gBlue)"/>
<circle cx="593.40" cy="1301.30" r="6.0" fill="url(#gBlue)"/>
<circle cx="605.60" cy="1303.90" r="6.0" fill="url(#gBlue)"/>
<circle cx="617.80" cy="1308.80" r="6.0" fill="url(#gBlue)"/>
<circle cx="630.20" cy="1309.80" r="6.0" fill="url(#gBlue)"/>
<circle cx="642.80" cy="1313.00" r="6.0" fill="url(#gBlue)"/>
<circle cx="655.40" cy="1311.60" r="6.0" fill="url(#gBlue)"/>
<circle cx="667.80" cy="1313.70" r="6.0" fill="url(#gBlue)"/>
<circle cx="680.50" cy="1317.30" r="6.0" fill="url(#gBlue)"/>
<circle cx="693.20" cy="1316.70" r="6.0" fill="url(#gBlue)"/>
<circle cx="705.80" cy="1321.20" r="6.0" fill="url(#gBlue)"/>
<circle cx="718.00" cy="1327.20" r="6.0" fill="url(#gBlue)"/>
<circle cx="730.20" cy="1310.60" r="6.0" fill="url(#gBlue)"/>
<circle cx="742.90" cy="1310.60" r="6.0" fill="url(#gBlue)"/>
<circle cx="755.20" cy="1346.50" r="6.0" fill="url(#gBlue)"/>
<circle cx="767.80" cy="1347.20" r="6.0" fill="url(#gBlue)"/>
<circle cx="780.80" cy="1347.20" r="6.0" fill="url(#gBlue)"/>
</g>
<line x1="150.0" y1="126.0" x2="225.5" y2="126.0" stroke="#000" stroke-width="3.1"/>
<rect x="182.30" y="120.60" width="10.8" height="10.8" rx="1.6"/>
<line x1="150.0" y1="165.9" x2="225.5" y2="165.9" stroke="#e52d30" stroke-width="3.3"/>
<line x1="150.0" y1="209.7" x2="225.5" y2="209.7" stroke="#263f9a" stroke-width="3.2"/>
<circle cx="187.7" cy="209.7" r="5.8" fill="url(#gBlue)"/>
<line x1="150.0" y1="249.4" x2="225.5" y2="249.4" stroke="#000" stroke-width="3.1"/>
<circle cx="187.7" cy="249.4" r="5.8" fill="url(#gBlk)"/>
<line x1="144.1" y1="846.9" x2="219.5" y2="846.9" stroke="#000" stroke-width="3.1"/>
<rect x="176.70" y="841.50" width="10.8" height="10.8" rx="1.6"/>
<line x1="144.1" y1="887.3" x2="219.5" y2="887.3" stroke="#e52d30" stroke-width="3.3"/>
<line x1="144.1" y1="930.8" x2="219.5" y2="930.8" stroke="#263f9a" stroke-width="3.2"/>
<circle cx="182.1" cy="930.8" r="5.8" fill="url(#gBlue)"/>
<line x1="144.1" y1="970.4" x2="219.5" y2="970.4" stroke="#000" stroke-width="3.1"/>
<circle cx="182.1" cy="970.4" r="5.8" fill="url(#gBlk)"/>
<g stroke="#000" stroke-width="3.0" fill="none"><rect x="146.50" y="101.10" width="650.70" height="523.70" fill="none" stroke-linejoin="miter"/></g>
<g stroke="#000" stroke-width="3.0" fill="none"><rect x="137.30" y="826.80" width="650.40" height="522.80" fill="none" stroke-linejoin="miter"/></g>
<line x1="617.90" y1="73.00" x2="637.90" y2="73.00" stroke="#000" stroke-width="3"/><path d="M596.80,73.00 L618.90,66.70 Q615.90,73.00 618.90,79.30 Z" fill="#000"/>
<line x1="791.50" y1="124.40" x2="813.30" y2="124.40" stroke="#000" stroke-width="3"/><path d="M770.70,124.40 L792.50,118.10 Q789.50,124.40 792.50,130.70 Z" fill="#000"/>
<line x1="618.00" y1="802.10" x2="639.20" y2="802.10" stroke="#000" stroke-width="3"/><path d="M597.50,802.10 L619.00,795.80 Q616.00,802.10 619.00,808.40 Z" fill="#000"/>
<line x1="782.00" y1="851.90" x2="803.60" y2="851.90" stroke="#000" stroke-width="3"/><path d="M760.70,851.90 L783.00,845.60 Q780.00,851.90 783.00,858.20 Z" fill="#000"/>
<g font-family="Liberation Serif" style="font-kerning:none;opacity:0.999" stroke="#fff" stroke-width="0.4"><text transform="translate(354.83,27.80) scale(1.1990,1)" font-size="33.75" fill="#000">Depth</text>
<text transform="translate(470.71,27.80) scale(1.1949,1)" font-size="34.00" fill="#000">(nm)</text>
<text transform="translate(227.05,75.57) scale(1.1300,1)" font-size="34.23" fill="#000">300</text>
<text transform="translate(387.62,80.77) scale(1.1345,1)" font-size="33.94" fill="#000">150</text>
<text transform="translate(570.09,80.08) scale(1.2214,1)" font-size="32.45" fill="#000">0</text>
<text transform="translate(648.79,83.88) scale(1.2666,1)" font-size="32.89" fill="#000">Ga</text>
<text transform="translate(117.12,635.97) scale(1.2184,1)" font-size="34.08" fill="#000">0</text>
<text transform="translate(59.59,548.68) scale(1.1382,1)" font-size="34.08" fill="#000">1000</text>
<text transform="translate(61.33,461.40) scale(1.1121,1)" font-size="34.08" fill="#000">2000</text>
<text transform="translate(61.18,374.12) scale(1.1144,1)" font-size="34.08" fill="#000">3000</text>
<text transform="translate(62.27,286.83) scale(1.0981,1)" font-size="34.08" fill="#000">4000</text>
<text transform="translate(60.78,199.55) scale(1.1204,1)" font-size="34.08" fill="#000">5000</text>
<text transform="translate(61.37,112.27) scale(1.1115,1)" font-size="34.08" fill="#000">6000</text>
<text transform="translate(107.15,663.36) scale(1.0987,1)" font-size="34.68" fill="#000">1200</text>
<text transform="translate(215.60,663.36) scale(1.0987,1)" font-size="34.68" fill="#000">1300</text>
<text transform="translate(324.05,663.36) scale(1.0987,1)" font-size="34.68" fill="#000">1400</text>
<text transform="translate(432.50,663.36) scale(1.0987,1)" font-size="34.68" fill="#000">1500</text>
<text transform="translate(540.95,663.36) scale(1.0987,1)" font-size="34.68" fill="#000">1600</text>
<text transform="translate(649.40,663.36) scale(1.0987,1)" font-size="34.68" fill="#000">1700</text>
<text transform="translate(757.85,663.36) scale(1.0987,1)" font-size="34.68" fill="#000">1800</text>
<text transform="translate(358.65,710.10) scale(1.1620,1)" font-size="34.36" fill="#000">Energy</text>
<text transform="translate(490.40,710.10) scale(1.1350,1)" font-size="34.00" fill="#000">(keV)</text>
<text transform="translate(29.70,408.23) rotate(-90) scale(1.1177,1)" font-size="34.52">Yield</text>
<text transform="translate(232.74,136.30) scale(1.2628,1)" font-size="31.92" fill="#000">Random</text>
<text transform="translate(231.19,176.60) scale(1.1943,1)" font-size="33.90" fill="#000">Simulated</text>
<text transform="translate(231.35,221.10) scale(1.2355,1)" font-size="33.75" fill="#000">7</text>
<text transform="translate(274.92,221.06) scale(1.1182,1)" font-size="34.38" fill="#000">10</text>
<text transform="translate(353.58,220.20) scale(1.1608,1)" font-size="33.50" fill="#000">ions</text>
<text transform="translate(437.11,220.20) scale(1.1705,1)" font-size="33.50" fill="#000">cm</text>
<text transform="translate(233.46,260.20) scale(1.1390,1)" font-size="34.52" fill="#000">Virgin</text>
<text transform="translate(166.01,303.10) scale(1.1408,1)" font-size="33.75" fill="#000">In</text>
<text transform="translate(248.07,303.10) scale(1.1810,1)" font-size="33.75" fill="#000">Ga</text>
<text transform="translate(343.83,303.10) scale(1.1049,1)" font-size="33.75" fill="#000">N</text>
<text transform="translate(492.53,255.30) scale(1.1838,1)" font-size="34.36" fill="#000">In</text>
<text transform="translate(556.93,255.30) scale(1.1862,1)" font-size="34.36" fill="#000">Ga</text>
<text transform="translate(412.31,450.00) scale(1.2579,1)" font-size="32.84" fill="#000">Ga</text>
<text transform="translate(667.13,427.60) scale(1.1891,1)" font-size="34.21" fill="#000">In</text>
<text transform="translate(398.88,150.06) scale(1.0925,1)" font-size="34.82" fill="#000">300</text>
<text transform="translate(554.50,146.97) scale(1.1459,1)" font-size="33.79" fill="#000">150</text>
<text transform="translate(738.68,146.79) scale(1.2400,1)" font-size="32.16" fill="#000">0</text>
<text transform="translate(820.39,134.40) scale(1.1304,1)" font-size="34.52" fill="#000">In</text>
<text transform="translate(727.59,191.81) scale(1.1143,1)" font-size="37.06" fill="#000">(a)</text>
<text transform="translate(367.63,765.00) scale(1.1936,1)" font-size="33.90" fill="#000">Depth</text>
<text transform="translate(483.49,765.00) scale(1.2107,1)" font-size="34.00" fill="#000">(nm)</text>
<text transform="translate(214.85,808.17) scale(1.1321,1)" font-size="34.23" fill="#000">300</text>
<text transform="translate(375.45,808.17) scale(1.1119,1)" font-size="34.23" fill="#000">150</text>
<text transform="translate(561.13,807.27) scale(1.1402,1)" font-size="33.94" fill="#000">0</text>
<text transform="translate(650.71,812.28) scale(1.2614,1)" font-size="32.74" fill="#000">Ga</text>
<text transform="translate(110.58,1356.47) scale(1.0890,1)" font-size="34.23" fill="#000">0</text>
<text transform="translate(53.02,1256.77) scale(1.1411,1)" font-size="33.49" fill="#000">2000</text>
<text transform="translate(53.96,1151.37) scale(1.1318,1)" font-size="33.34" fill="#000">4000</text>
<text transform="translate(53.06,1046.76) scale(1.1063,1)" font-size="34.53" fill="#000">6000</text>
<text transform="translate(53.04,941.68) scale(1.1804,1)" font-size="32.45" fill="#000">8000</text>
<text transform="translate(34.45,837.28) scale(1.1733,1)" font-size="32.45" fill="#000">10000</text>
<text transform="translate(101.83,1384.16) scale(1.1049,1)" font-size="34.68" fill="#000">1200</text>
<text transform="translate(210.23,1384.16) scale(1.1049,1)" font-size="34.68" fill="#000">1300</text>
<text transform="translate(318.63,1384.16) scale(1.1049,1)" font-size="34.68" fill="#000">1400</text>
<text transform="translate(427.03,1384.16) scale(1.1049,1)" font-size="34.68" fill="#000">1500</text>
<text transform="translate(535.43,1384.16) scale(1.1049,1)" font-size="34.68" fill="#000">1600</text>
<text transform="translate(643.83,1384.16) scale(1.1049,1)" font-size="34.68" fill="#000">1700</text>
<text transform="translate(752.23,1384.16) scale(1.1049,1)" font-size="34.68" fill="#000">1800</text>
<text transform="translate(364.75,1427.10) scale(1.1777,1)" font-size="33.90" fill="#000">Energy</text>
<text transform="translate(496.50,1427.10) scale(1.1350,1)" font-size="34.00" fill="#000">(keV)</text>
<text transform="translate(28.90,1138.44) rotate(-90) scale(1.1414,1)" font-size="34.52">Yield</text>
<text transform="translate(222.63,857.80) scale(1.2012,1)" font-size="33.90" fill="#000">Random</text>
<text transform="translate(221.06,898.00) scale(1.1984,1)" font-size="34.21" fill="#000">Simulated</text>
<text transform="translate(221.35,943.60) scale(1.2135,1)" font-size="34.36" fill="#000">7</text>
<text transform="translate(264.92,943.26) scale(1.1086,1)" font-size="34.68" fill="#000">10</text>
<text transform="translate(343.58,942.60) scale(1.1608,1)" font-size="33.50" fill="#000">ions</text>
<text transform="translate(427.11,942.60) scale(1.1705,1)" font-size="33.50" fill="#000">cm</text>
<text transform="translate(223.36,981.60) scale(1.1301,1)" font-size="34.82" fill="#000">Virgin</text>
<text transform="translate(161.44,1027.00) scale(1.1726,1)" font-size="34.36" fill="#000">In</text>
<text transform="translate(230.26,1027.00) scale(1.1627,1)" font-size="34.36" fill="#000">Ga</text>
<text transform="translate(312.64,1027.00) scale(1.0679,1)" font-size="34.36" fill="#000">N</text>
<text transform="translate(447.84,969.50) scale(1.1869,1)" font-size="34.06" fill="#000">In</text>
<text transform="translate(512.29,969.50) scale(1.1546,1)" font-size="34.06" fill="#000">Ga</text>
<text transform="translate(327.53,1303.70) scale(1.1406,1)" font-size="35.74" fill="#000">Ga</text>
<text transform="translate(687.51,967.40) scale(1.2078,1)" font-size="34.21" fill="#000">In</text>
<text transform="translate(390.37,870.78) scale(1.1629,1)" font-size="32.90" fill="#000">300</text>
<text transform="translate(553.64,870.78) scale(1.1636,1)" font-size="32.90" fill="#000">150</text>
<text transform="translate(733.96,868.70) scale(1.2307,1)" font-size="30.68" fill="#000">0</text>
<text transform="translate(810.45,864.00) scale(1.1917,1)" font-size="33.60" fill="#000">In</text>
<text transform="translate(728.19,909.02) scale(1.0880,1)" font-size="37.94" fill="#000">(b)</text></g>
<g font-family="Liberation Serif" style="font-kerning:none;opacity:0.999"><text transform="translate(313.72,211.00) scale(1.1191,1)" font-size="23.18" fill="#000">11</text>
<text transform="translate(484.97,210.10) scale(1.4588,1)" font-size="20.69" fill="#000">2</text>
<text transform="translate(200.26,307.21) scale(1.3496,1)" font-size="20.17" fill="#000">0.32</text>
<text transform="translate(295.44,307.21) scale(1.3743,1)" font-size="20.17" fill="#000">0.68</text>
<text transform="translate(303.62,931.80) scale(1.1191,1)" font-size="23.18" fill="#000">11</text>
<text transform="translate(474.97,932.30) scale(1.4275,1)" font-size="21.14" fill="#000">2</text>
<text transform="translate(194.46,1031.27) scale(1.2805,1)" font-size="23.41" fill="#000">0.9</text>
<text transform="translate(277.10,1031.27) scale(1.2312,1)" font-size="23.41" fill="#000">0.1</text></g>
<path d="M254.60,201.60 L273.00,220.20 M273.00,201.60 L254.60,220.20" stroke="#000" stroke-width="1.6" stroke-linecap="round" fill="none"/>
<path d="M420.80,228.00 L434.80,196.00" stroke="#000" stroke-width="1.7" stroke-linecap="round" fill="none"/>
<path d="M530.40,247.00 L553.10,247.00 M541.75,235.80 L541.75,258.20" stroke="#000" stroke-width="1.6" stroke-linecap="round" fill="none"/>
<path d="M244.60,924.00 L263.00,942.60 M263.00,924.00 L244.60,942.60" stroke="#000" stroke-width="1.6" stroke-linecap="round" fill="none"/>
<path d="M410.80,950.40 L424.80,918.40" stroke="#000" stroke-width="1.7" stroke-linecap="round" fill="none"/>
<path d="M485.70,961.40 L508.40,961.40 M497.05,950.20 L497.05,972.60" stroke="#000" stroke-width="1.6" stroke-linecap="round" fill="none"/>
</svg>
</body></html>
